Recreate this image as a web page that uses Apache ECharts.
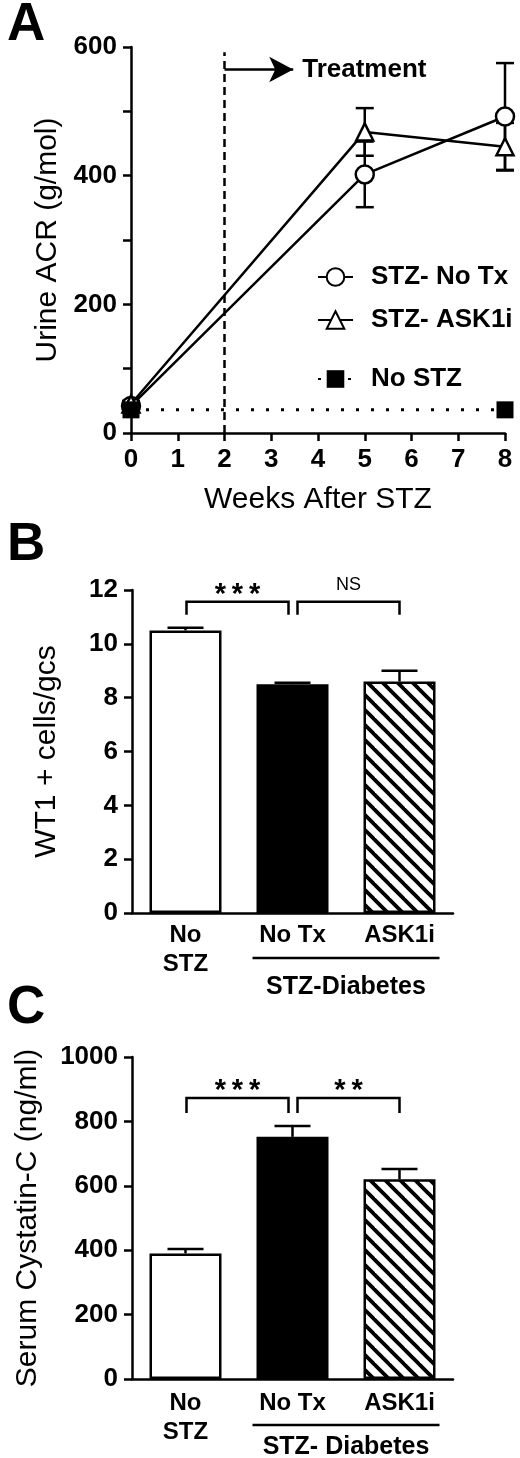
<!DOCTYPE html>
<html>
<head>
<meta charset="utf-8">
<script src="https://cdn.jsdelivr.net/npm/echarts@6/dist/echarts.min.js"></script>
<style>
html,body{margin:0;padding:0;background:#fff;}
#chart{width:520px;height:1458px;}
</style>
</head>
<body>
<div id="chart"></div>
<script>
// ---------- Data ----------
const weeks = [0, 5, 8];
const acrNoTx = [42, 402, 492];
const acrNoTxErr = [5, 51, 83];
const acrAsk = [45, 468, 445];
const acrAskErr = [5, 37, 37];
const noStzWeeks = [0, 8];
const acrNoStz = [36, 36];
const treatmentWeek = 2;

const barCategories = ['No\nSTZ', 'No Tx', 'ASK1i'];
const wt1 = [10.5, 8.5, 8.6];
const wt1Err = [0.1, 0.05, 0.4];
const wt1Brackets = [[0, 1, 11.56, 11.08], [1, 2, 11.56, 11.08]];
const wt1BracketLabels = ['***', 'NS'];

const cys = [390, 752, 620];
const cysErr = [14, 34, 32];
const cysBrackets = [[0, 1, 873, 826], [1, 2, 873, 826]];
const cysBracketLabels = ['***', '**'];

// ---------- Fonts ----------
function fontAvailable(name) {
  const c = document.createElement('canvas').getContext('2d');
  const s = 'Weeks After STZ 0123';
  c.font = '40px monospace';
  const a = c.measureText(s).width;
  c.font = '40px "' + name + '", monospace';
  const b = c.measureText(s).width;
  c.font = '40px serif';
  const a2 = c.measureText(s).width;
  c.font = '40px "' + name + '", serif';
  const b2 = c.measureText(s).width;
  return a !== b || a2 !== b2;
}
const FONT = 'Liberation Sans';
const hasNarrow = fontAvailable('Liberation Sans Narrow');
const NAME_FONT = hasNarrow ? 'Liberation Sans Narrow' : 'Liberation Sans';
const NAME_SIZE = hasNarrow ? 37 : 30;
const LW = 2.5;

function hatchCanvas() {
  const s = 15;
  const c = document.createElement('canvas');
  c.width = s; c.height = s;
  const ctx = c.getContext('2d');
  ctx.fillStyle = '#fff';
  ctx.fillRect(0, 0, s, s);
  ctx.strokeStyle = '#000';
  ctx.lineWidth = 3.8;
  [-s, 0, s].forEach(a => {
    ctx.beginPath();
    ctx.moveTo(a - 2, -2);
    ctx.lineTo(a + s + 2, s + 2);
    ctx.stroke();
  });
  return c;
}
const hatch = {image: hatchCanvas(), repeat: 'repeat'};

function errRender(capHalf, upperOnly) {
  return function (params, api) {
    const x = api.value(0), y = api.value(1), e = api.value(2);
    const top = api.coord([x, y + e]);
    const bot = upperOnly ? api.coord([x, y]) : api.coord([x, y - e]);
    const st = {stroke: '#000', lineWidth: LW};
    const ch = [
      {type: 'line', shape: {x1: top[0], y1: top[1], x2: bot[0], y2: bot[1]}, style: st},
      {type: 'line', shape: {x1: top[0] - capHalf, y1: top[1], x2: top[0] + capHalf, y2: top[1]}, style: st}
    ];
    if (!upperOnly) ch.push({type: 'line', shape: {x1: bot[0] - capHalf, y1: bot[1], x2: bot[0] + capHalf, y2: bot[1]}, style: st});
    return {type: 'group', children: ch};
  };
}

function bracketRender(labels) {
  return function (params, api) {
    const x0 = api.value(0), x1 = api.value(1), yt = api.value(2), yl = api.value(3);
    const a = api.coord([x0, yt]), b = api.coord([x1, yt]);
    const leg = api.coord([x0, yl])[1];
    const i = params.dataIndex;
    const ax = a[0] + (i === 0 ? 1 : 5);
    const bx = b[0] + (i === 0 ? -4 : 0);
    const st = {stroke: '#000', lineWidth: LW, fill: null};
    const lab = labels[i];
    const isStar = lab.indexOf('*') >= 0;
    return {type: 'group', children: [
      {type: 'polyline', shape: {points: [[ax, leg], [ax, a[1]], [bx, a[1]], [bx, leg]]}, style: st},
      {type: 'text', style: {
        text: isStar ? lab.split('').join('\u2009') : lab,
        x: (ax + bx) / 2, y: isStar ? a[1] + 8 : a[1] - 8,
        align: 'center', verticalAlign: 'bottom',
        font: (isStar ? 'bold 29px ' : '18px ') + FONT, fill: '#000'
      }}
    ]};
  };
}

function groupRender(label, lineOff, textOff) {
  return function (params, api) {
    const a = api.coord([api.value(0), 0]);
    const b = api.coord([api.value(1), 0]);
    return {type: 'group', children: [
      {type: 'line', shape: {x1: a[0] - 40, y1: a[1] + lineOff, x2: b[0] + 40, y2: a[1] + lineOff}, style: {stroke: '#000', lineWidth: LW}},
      {type: 'text', style: {text: label, x: (a[0] + b[0]) / 2, y: a[1] + textOff, align: 'center', verticalAlign: 'middle',
        font: 'bold 25px ' + FONT, fill: '#000'}}
    ]};
  };
}

const axisLine = {show: true, lineStyle: {color: '#000', width: LW}};
const axisTick = {show: true, inside: false, length: 8, lineStyle: {color: '#000', width: LW}};
const tickLabel = {color: '#000', fontFamily: FONT, fontSize: 26, fontWeight: 'bold', margin: 14};
const nameStyle = {color: '#000', fontFamily: NAME_FONT, fontSize: NAME_SIZE};
const catLabel = {color: '#000', fontFamily: FONT, fontSize: 24, fontWeight: 'bold', lineHeight: 29};
const legendText = {color: '#000', fontFamily: FONT, fontSize: 26, fontWeight: 'bold', lineHeight: 22, padding: [0, 0, 0, 13]};

const chart = echarts.init(document.getElementById('chart'), null, {renderer: 'canvas'});

const option = {
  animation: false,
  backgroundColor: '#fff',
  title: [
    {text: 'A', left: 2, top: -6, textStyle: {fontFamily: FONT, fontWeight: 'bold', fontSize: 53, color: '#000'}},
    {text: 'B', left: 2, top: 514, textStyle: {fontFamily: FONT, fontWeight: 'bold', fontSize: 53, color: '#000'}},
    {text: 'C', left: 2, top: 977, textStyle: {fontFamily: FONT, fontWeight: 'bold', fontSize: 53, color: '#000'}}
  ],
  grid: [
    {left: 131, top: 47, width: 374, height: 386},
    {left: 132, top: 590, width: 321, height: 323},
    {left: 132, top: 1057, width: 321, height: 322}
  ],
  legend: [
    {data: ['STZ- No Tx'], left: 317, top: 264, padding: 0, itemWidth: 35, itemHeight: 22, textStyle: legendText},
    {data: ['STZ- ASK1i'], left: 317, top: 307, padding: 0, itemWidth: 35, itemHeight: 22, textStyle: legendText},
    {data: ['No STZ'], left: 317, top: 366, padding: 0, itemWidth: 35, itemHeight: 22, textStyle: legendText}
  ],
  xAxis: [
    {gridIndex: 0, type: 'value', min: 0, max: 8, interval: 1, splitLine: {show: false},
      axisLine: axisLine, axisTick: axisTick, axisLabel: tickLabel,
      name: 'Weeks After STZ', nameLocation: 'middle', nameGap: 52, nameTextStyle: nameStyle},
    {gridIndex: 1, type: 'category', data: barCategories, axisLine: axisLine, axisTick: {show: false},
      axisLabel: Object.assign({}, catLabel, {margin: 8})},
    {gridIndex: 2, type: 'category', data: barCategories, axisLine: axisLine, axisTick: {show: false},
      axisLabel: Object.assign({}, catLabel, {margin: 10})}
  ],
  yAxis: [
    {gridIndex: 0, type: 'value', min: 0, max: 600, interval: 100, splitLine: {show: false},
      axisLine: axisLine, axisTick: axisTick,
      axisLabel: Object.assign({}, tickLabel, {formatter: v => (v % 200 === 0 ? String(v) : '')}),
      name: 'Urine ACR (g/mol)', nameLocation: 'middle', nameGap: 68, nameTextStyle: nameStyle},
    {gridIndex: 1, type: 'value', min: 0, max: 12, interval: 2, splitLine: {show: false},
      axisLine: axisLine, axisTick: axisTick, axisLabel: Object.assign({}, tickLabel, {formatter: v => String(v)}),
      name: 'WT1 + cells/gcs', nameLocation: 'middle', nameGap: 70, nameTextStyle: nameStyle},
    {gridIndex: 2, type: 'value', min: 0, max: 1000, interval: 200, splitLine: {show: false},
      axisLine: axisLine, axisTick: axisTick, axisLabel: Object.assign({}, tickLabel, {formatter: v => String(v)}),
      name: 'Serum Cystatin-C (ng/ml)', nameLocation: 'middle', nameGap: 89, nameTextStyle: nameStyle}
  ],
  series: [
    // Panel A error bars
    {type: 'custom', xAxisIndex: 0, yAxisIndex: 0, z: 1, renderItem: errRender(9, false),
      data: weeks.map((w, i) => [w, acrNoTx[i], acrNoTxErr[i]])},
    {type: 'custom', xAxisIndex: 0, yAxisIndex: 0, z: 1, renderItem: errRender(9, false),
      data: weeks.map((w, i) => [w, acrAsk[i], acrAskErr[i]])},
    {name: 'STZ- No Tx', type: 'line', xAxisIndex: 0, yAxisIndex: 0, z: 4,
      data: weeks.map((w, i) => [w, acrNoTx[i]]),
      symbol: 'circle', symbolSize: 18,
      itemStyle: {color: '#fff', borderColor: '#000', borderWidth: LW},
      lineStyle: {color: '#000', width: LW},
      markLine: {silent: true, symbol: 'none', animation: false,
        data: [
          [{coord: [treatmentWeek, 0], lineStyle: {color: '#000', width: LW, type: [8, 5]}, label: {show: false}},
           {coord: [treatmentWeek, 592]}],
          [{coord: [treatmentWeek, 565], symbol: 'none', lineStyle: {color: '#000', width: LW, type: 'solid'},
            label: {show: true, position: 'end', formatter: 'Treatment', color: '#000', fontFamily: FONT, fontSize: 26, fontWeight: 'bold', distance: 9}},
           {coord: [3.47, 565], symbol: 'arrow', symbolSize: [19, 24]}]
        ]}},
    {name: 'STZ- ASK1i', type: 'line', xAxisIndex: 0, yAxisIndex: 0, z: 5,
      data: weeks.map((w, i) => [w, acrAsk[i]]),
      symbol: 'triangle', symbolSize: 17,
      itemStyle: {color: '#fff', borderColor: '#000', borderWidth: LW},
      lineStyle: {color: '#000', width: LW}},
    {name: 'No STZ', type: 'line', xAxisIndex: 0, yAxisIndex: 0, z: 6,
      data: noStzWeeks.map((w, i) => [w, acrNoStz[i]]),
      symbol: 'rect', symbolSize: 17,
      itemStyle: {color: '#000', borderColor: '#000', borderWidth: 0},
      lineStyle: {color: '#000', width: 3, type: [3, 12]}},

    // Panel B
    {type: 'bar', xAxisIndex: 1, yAxisIndex: 1, barWidth: 72,
      data: [
        {value: wt1[0], itemStyle: {color: '#fff'}},
        {value: wt1[1], itemStyle: {color: '#000'}},
        {value: wt1[2], itemStyle: {color: hatch}}
      ],
      itemStyle: {borderColor: '#000', borderWidth: LW}},
    {type: 'custom', xAxisIndex: 1, yAxisIndex: 1, z: 3, renderItem: errRender(18, true),
      data: wt1.map((v, i) => [i, v, wt1Err[i]])},
    {type: 'custom', xAxisIndex: 1, yAxisIndex: 1, z: 3, renderItem: bracketRender(wt1BracketLabels),
      data: wt1Brackets},
    {type: 'custom', xAxisIndex: 1, yAxisIndex: 1, z: 3, renderItem: groupRender('STZ-Diabetes', 45, 74),
      data: [[1, 2]]},

    // Panel C
    {type: 'bar', xAxisIndex: 2, yAxisIndex: 2, barWidth: 72,
      data: [
        {value: cys[0], itemStyle: {color: '#fff'}},
        {value: cys[1], itemStyle: {color: '#000'}},
        {value: cys[2], itemStyle: {color: hatch}}
      ],
      itemStyle: {borderColor: '#000', borderWidth: LW}},
    {type: 'custom', xAxisIndex: 2, yAxisIndex: 2, z: 3, renderItem: errRender(18, true),
      data: cys.map((v, i) => [i, v, cysErr[i]])},
    {type: 'custom', xAxisIndex: 2, yAxisIndex: 2, z: 3, renderItem: bracketRender(cysBracketLabels),
      data: cysBrackets},
    {type: 'custom', xAxisIndex: 2, yAxisIndex: 2, z: 3, renderItem: groupRender('STZ- Diabetes', 46, 68),
      data: [[1, 2]]}
  ]
};
chart.setOption(option);
</script>
</body>
</html>
